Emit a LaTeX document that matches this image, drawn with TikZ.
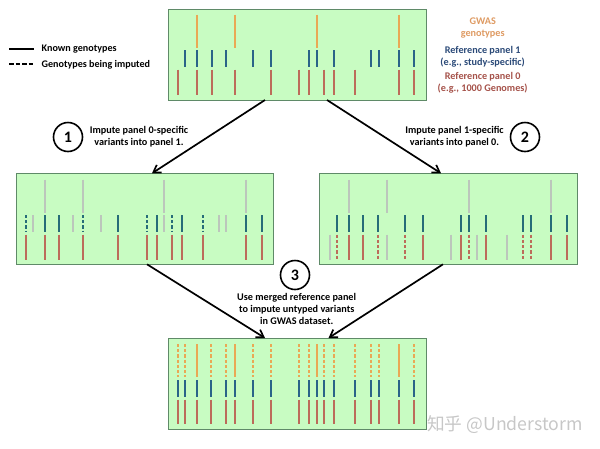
\documentclass[tikz,border=0pt]{standalone}
\usepackage{fontspec}
\setmainfont{Carlito}
\newfontfamily\cjkwm{Noto Sans CJK SC}
\usetikzlibrary{arrows.meta}
\definecolor{panelgreen}{HTML}{C8FCC2}
\definecolor{paneledge}{HTML}{5F8A68}
\definecolor{gwas}{HTML}{E9A855}
\definecolor{ref1}{HTML}{2A6488}
\definecolor{ref1t}{HTML}{266C78}
\definecolor{ref0}{HTML}{BC6C5A}
\definecolor{ghost}{HTML}{BCC6BC}
\definecolor{tgwas}{HTML}{DE9A62}
\definecolor{tref1}{HTML}{2B4A78}
\definecolor{tref0}{HTML}{A5524A}
\tikzset{
  panel/.style={draw=paneledge,fill=panelgreen,line width=0.9pt,inner sep=0pt,anchor=north west},
  tick/.style={line width=2pt},
  dashtick/.style={line width=2pt,dash pattern=on 3.2pt off 2pt},
  flow/.style={line width=1.7pt,-{Straight Barb[length=7pt,width=9pt,line width=1.7pt]}},
  stepnum/.style={draw,circle,line width=1.6pt,minimum size=29pt,inner sep=0pt,font=\bfseries\fontsize{16}{16}\selectfont},
  lab/.style={font=\bfseries\fontsize{10.2}{12.2}\selectfont,align=center,inner sep=0pt},
  leg/.style={font=\bfseries\fontsize{10.1}{12}\selectfont,anchor=west,inner sep=0pt}
}
\begin{document}
\begin{tikzpicture}[x=1pt,y=-1pt]
\useasboundingbox (0,0) rectangle (600,448);
% panels
\node[panel,minimum width=258pt,minimum height=91pt] (pa) at (167.5,9) {};
\node[panel,minimum width=257pt,minimum height=91pt] (pb) at (15.7,173.3) {};
\node[panel,minimum width=258pt,minimum height=91pt] (pc) at (319.3,173.3) {};
\node[panel,minimum width=258pt,minimum height=91pt] (pd) at (167.5,338.3) {};
% panel A
\begin{scope}[shift={(160,0)}]
\foreach \x in {110,225,470,716} \draw[tick,gwas] (\x/3,14.5) -- (\x/3,47.7);
\foreach \x in {75,110,155,197,280,333,447,470,522,632,656,716,763} \draw[tick,ref1] (\x/3,50) -- (\x/3,66.7);
\foreach \x in {54,110,155,225,333,418,447,493,522,585,716,763} \draw[tick,ref0] (\x/3,69.7) -- (\x/3,94.7);
\end{scope}
% panel B
\begin{scope}[shift={(0,165)}]
\foreach \x in {134,248,493,739} \draw[tick,ghost] (\x/3,14.5) -- (\x/3,47.7);
\foreach \x in {134,178,355,470,545,739,786} \draw[tick,ref1t] (\x/3,50) -- (\x/3,66.7);
\foreach \x in {78,248,440,516,608} \draw[dashtick,ref1t] (\x/3,50) -- (\x/3,66.7);
\foreach \x in {99,220,303,493,656,678} \draw[tick,ghost] (\x/3,50) -- (\x/3,66.7);
\foreach \x in {78,134,178,248,355,440,470,516,545,608,739,786} \draw[tick,ref0] (\x/3,69.7) -- (\x/3,94.7);
\end{scope}
% panel C
\begin{scope}[shift={(310,165)}]
\foreach \x in {116,231,477,722} \draw[tick,ghost] (\x/3,14.5) -- (\x/3,47.7);
\foreach \x in {81,116,160,203,285,338,452,477,528,638,662,722,770} \draw[tick,ref1t] (\x/3,50) -- (\x/3,66.7);
\foreach \x in {116,160,338,452,528,722,770} \draw[tick,ref0] (\x/3,69.7) -- (\x/3,94.7);
\foreach \x in {81,203,285,477,638,662} \draw[dashtick,ref0] (\x/3,69.7) -- (\x/3,94.7);
\foreach \x in {60,231,423,500,591} \draw[tick,ghost] (\x/3,69.7) -- (\x/3,94.7);
\end{scope}
% panel D
\begin{scope}[shift={(160,330)}]
\foreach \x in {110,225,470,716} \draw[tick,gwas] (\x/3,14) -- (\x/3,47);
\foreach \x in {54,75,154,197,280,333,418,447,493,522,585,632,656,763} \draw[dashtick,gwas] (\x/3,14) -- (\x/3,47);
\foreach \x in {54,75,110,154,197,225,280,333,418,447,470,493,522,585,632,656,716,763} {
  \draw[tick,ref1] (\x/3,50) -- (\x/3,66.7);
  \draw[tick,ref0] (\x/3,69.7) -- (\x/3,94);
}
\end{scope}
% connectors
\coordinate (a1) at (265,100);
\coordinate (a2) at (327,100);
\coordinate (b1) at (152,173.3);
\coordinate (c1) at (441,173.3);
\coordinate (b2) at (147,264.3);
\coordinate (c2) at (443,264.3);
\coordinate (d1) at (265,338);
\coordinate (d2) at (328.5,338);
\draw[flow] (a1) -- (b1);
\draw[flow] (a2) -- (c1);
\draw[flow] (b2) -- (d1);
\draw[flow] (c2) -- (d2);
% legend
\coordinate (k1) at (9,49); \coordinate (k2) at (34,49);
\coordinate (g1) at (9,64); \coordinate (g2) at (34,64);
\draw[line width=1.5pt] (k1) -- (k2);
\draw[line width=1.5pt,dash pattern=on 4.5pt off 2pt] (g1) -- (g2);
\node[leg] (lk) at (41.5,49) {Known genotypes};
\node[leg] (lg) at (41.5,64.5) {Genotypes being imputed};
% key
\node[lab,text=tgwas] (kg) at (482.7,28) {GWAS\\genotypes};
\node[lab,text=tref1] (kr1) at (482.7,56.5) {Reference panel 1\\(e.g., study-specific)};
\node[lab,text=tref0] (kr0) at (482.7,83) {Reference panel 0\\(e.g., 1000 Genomes)};
% steps
\node[stepnum] (s1) at (68,137) {1};
\node[stepnum] (s2) at (525,137) {2};
\node[stepnum] (s3) at (295,275) {3};
\node[lab] (t1) at (139,137) {Impute panel 0-specific\\variants into panel 1.};
\node[lab] (t2) at (454.5,137) {Impute panel 1-specific\\variants into panel 0.};
\node[lab] (t3) at (296.7,309) {Use merged reference panel\\to impute untyped variants\\in GWAS dataset.};
% watermark
\node[anchor=west,inner sep=0pt,text=black!22,font=\cjkwm\fontsize{17.7}{18}\selectfont] (wm) at (427,425) {知乎 @Understorm};
\end{tikzpicture}
\end{document}
